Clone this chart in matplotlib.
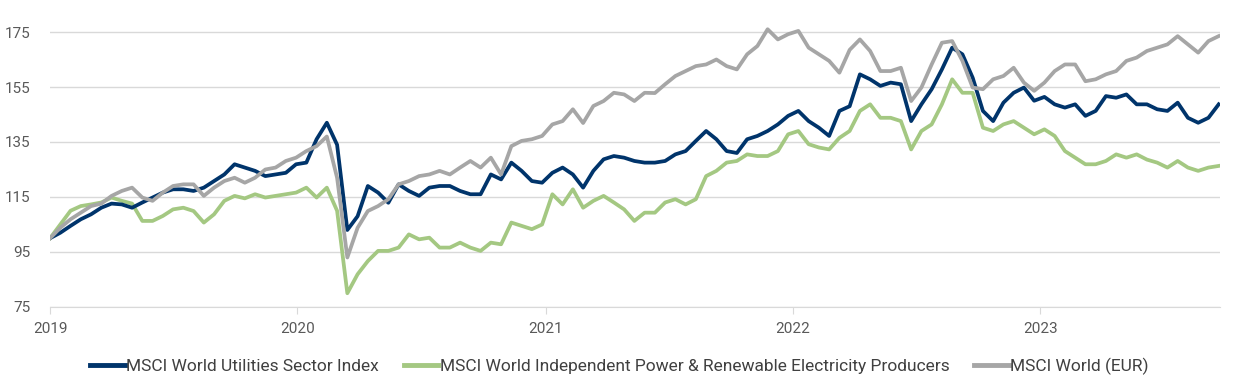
import numpy as np
import pandas as pd
import matplotlib
matplotlib.use("Agg")
import matplotlib.pyplot as plt
import matplotlib.dates as mdates

# observation dates (evenly spaced, ~10 days apart)
dates = pd.date_range("2019-01-01", "2023-09-21", periods=115)

utilities = [
    100.0, 102.0, 104.5, 106.9, 108.7, 111.1, 112.6, 112.3, 111.1, 113.0,
    114.8, 116.6, 117.8, 117.8, 117.2, 118.4, 120.8, 123.2, 126.9, 125.7,
    124.5, 122.6, 123.2, 123.8, 126.9, 127.5, 136.0, 142.0, 134.0, 103.0,
    108.0, 119.0, 116.6, 112.9, 119.6, 117.2, 115.4, 118.4, 119.0, 119.0,
    117.2, 116.0, 116.0, 123.2, 121.4, 127.5, 124.5, 120.8, 120.2, 123.8,
    125.7, 123.2, 118.4, 124.5, 128.7, 129.9, 129.3, 128.1, 127.5, 127.5,
    128.1, 130.5, 131.7, 135.4, 139.0, 136.0, 131.7, 131.0, 136.0, 137.2,
    139.0, 141.4, 144.5, 146.3, 142.6, 140.2, 137.2, 146.3, 148.0, 159.6,
    157.8, 155.4, 156.6, 156.0, 142.6, 148.7, 154.2, 161.4, 169.3, 166.9,
    158.4, 146.3, 142.6, 149.3, 152.9, 154.8, 150.0, 151.4, 148.7, 147.5,
    148.7, 144.5, 146.3, 151.7, 151.1, 152.3, 148.7, 148.7, 146.9, 146.3,
    149.3, 143.8, 142.0, 143.8, 148.7,
]

renewables = [
    100.0, 105.0, 110.0, 111.7, 112.3, 113.0, 114.8, 113.6, 112.6, 106.3,
    106.3, 108.1, 110.5, 111.1, 109.9, 105.7, 108.7, 113.6, 115.4, 114.5,
    116.0, 114.8, 115.4, 116.0, 116.6, 118.4, 114.8, 118.4, 110.0, 80.0,
    86.9, 91.7, 95.4, 95.4, 96.6, 101.4, 99.6, 100.2, 96.6, 96.6,
    98.4, 96.6, 95.4, 98.4, 97.8, 105.7, 104.5, 103.3, 105.0, 116.0,
    112.3, 117.8, 111.1, 113.6, 115.4, 113.0, 110.5, 106.3, 109.3, 109.3,
    113.0, 114.2, 112.3, 114.2, 122.6, 124.5, 127.5, 128.1, 130.5, 129.9,
    129.9, 131.7, 137.8, 139.0, 134.2, 133.0, 132.3, 136.5, 139.0, 146.3,
    148.7, 143.8, 143.8, 142.6, 132.3, 139.0, 141.4, 148.7, 157.8, 152.9,
    152.9, 140.2, 139.0, 141.4, 142.6, 140.2, 137.8, 139.6, 137.2, 131.7,
    129.3, 126.9, 126.9, 128.1, 130.5, 129.3, 130.5, 128.6, 127.5, 125.7,
    128.1, 125.7, 124.5, 125.7, 126.3,
]

msci_world = [
    100.0, 103.8, 106.9, 109.3, 111.7, 112.6, 115.4, 117.2, 118.4, 114.8,
    113.6, 116.6, 119.0, 119.6, 119.6, 115.4, 118.4, 120.8, 122.0, 120.2,
    122.0, 125.0, 125.7, 128.1, 129.3, 131.7, 133.5, 137.0, 122.0, 93.0,
    103.8, 109.9, 111.7, 114.2, 119.6, 120.8, 122.6, 123.2, 124.5, 123.2,
    125.7, 128.1, 125.7, 129.3, 123.2, 133.5, 135.4, 136.0, 137.2, 141.4,
    142.6, 146.9, 141.9, 148.1, 149.9, 152.9, 152.3, 149.9, 152.9, 152.8,
    156.0, 159.0, 160.8, 162.6, 163.2, 165.0, 162.6, 161.4, 166.9, 169.9,
    176.0, 172.3, 174.2, 175.4, 169.3, 166.9, 164.5, 160.2, 168.5, 172.3,
    168.1, 160.8, 160.8, 162.0, 149.9, 154.8, 163.2, 171.1, 171.7, 164.5,
    154.8, 154.2, 157.8, 159.0, 162.0, 156.6, 153.6, 156.6, 160.8, 163.2,
    163.2, 157.1, 157.8, 159.6, 160.8, 164.5, 165.7, 168.1, 169.3, 170.5,
    173.5, 170.5, 167.5, 171.7, 173.5,
]

labels = [
    "MSCI World Utilities Sector Index",
    "MSCI World Independent Power & Renewable Electricity Producers",
    "MSCI World (EUR)",
]
colors = ["#00346B", "#A4C882", "#A6A6A6"]
yticks = [75, 95, 115, 135, 155, 175]
years = [2019, 2020, 2021, 2022, 2023]

plt.rcParams["font.family"] = ["Roboto", "DejaVu Sans"]

fig = plt.figure(figsize=(12.39, 3.86), dpi=100)
ax = fig.add_axes([0.0404, 0.2047, 0.9443, 0.748])

# green underneath, then navy, grey on top like the reference
for series, col, lab, z in [(renewables, colors[1], labels[1], 2),
                            (utilities, colors[0], labels[0], 3),
                            (msci_world, colors[2], labels[2], 4)]:
    ax.plot(dates, series, color=col, lw=2.7, label=lab, zorder=z,
            solid_joinstyle="round")

ax.set_ylim(75, 180)
ax.set_xlim(pd.Timestamp("2019-01-01"), dates[-1] + pd.Timedelta(days=2))
ax.set_yticks(yticks)
ax.set_xticks([pd.Timestamp(f"{y}-01-01") for y in years])
ax.xaxis.set_major_formatter(mdates.DateFormatter("%Y"))

ax.grid(axis="y", color="#D9D9D9", lw=1)
ax.set_axisbelow(True)
for s in ["left", "right", "top"]:
    ax.spines[s].set_visible(False)
ax.spines["bottom"].set_color("#D9D9D9")
ax.tick_params(axis="y", length=0, labelsize=11, labelcolor="#595959", pad=14)
ax.tick_params(axis="x", length=5, color="#D9D9D9", labelsize=11,
               labelcolor="#595959", pad=6)

handles, labs = ax.get_legend_handles_labels()
order = [labs.index(l) for l in labels]
leg = fig.legend([handles[i] for i in order], [labs[i] for i in order],
                 loc="center", bbox_to_anchor=(0.5, 0.052), ncol=3,
                 frameon=False, fontsize=12.5, labelcolor="#404040",
                 handlelength=2.0, handletextpad=0.1, columnspacing=1.4)
for h in leg.get_lines():
    h.set_linewidth(3.5)

fig.savefig("out.png", dpi=100)
